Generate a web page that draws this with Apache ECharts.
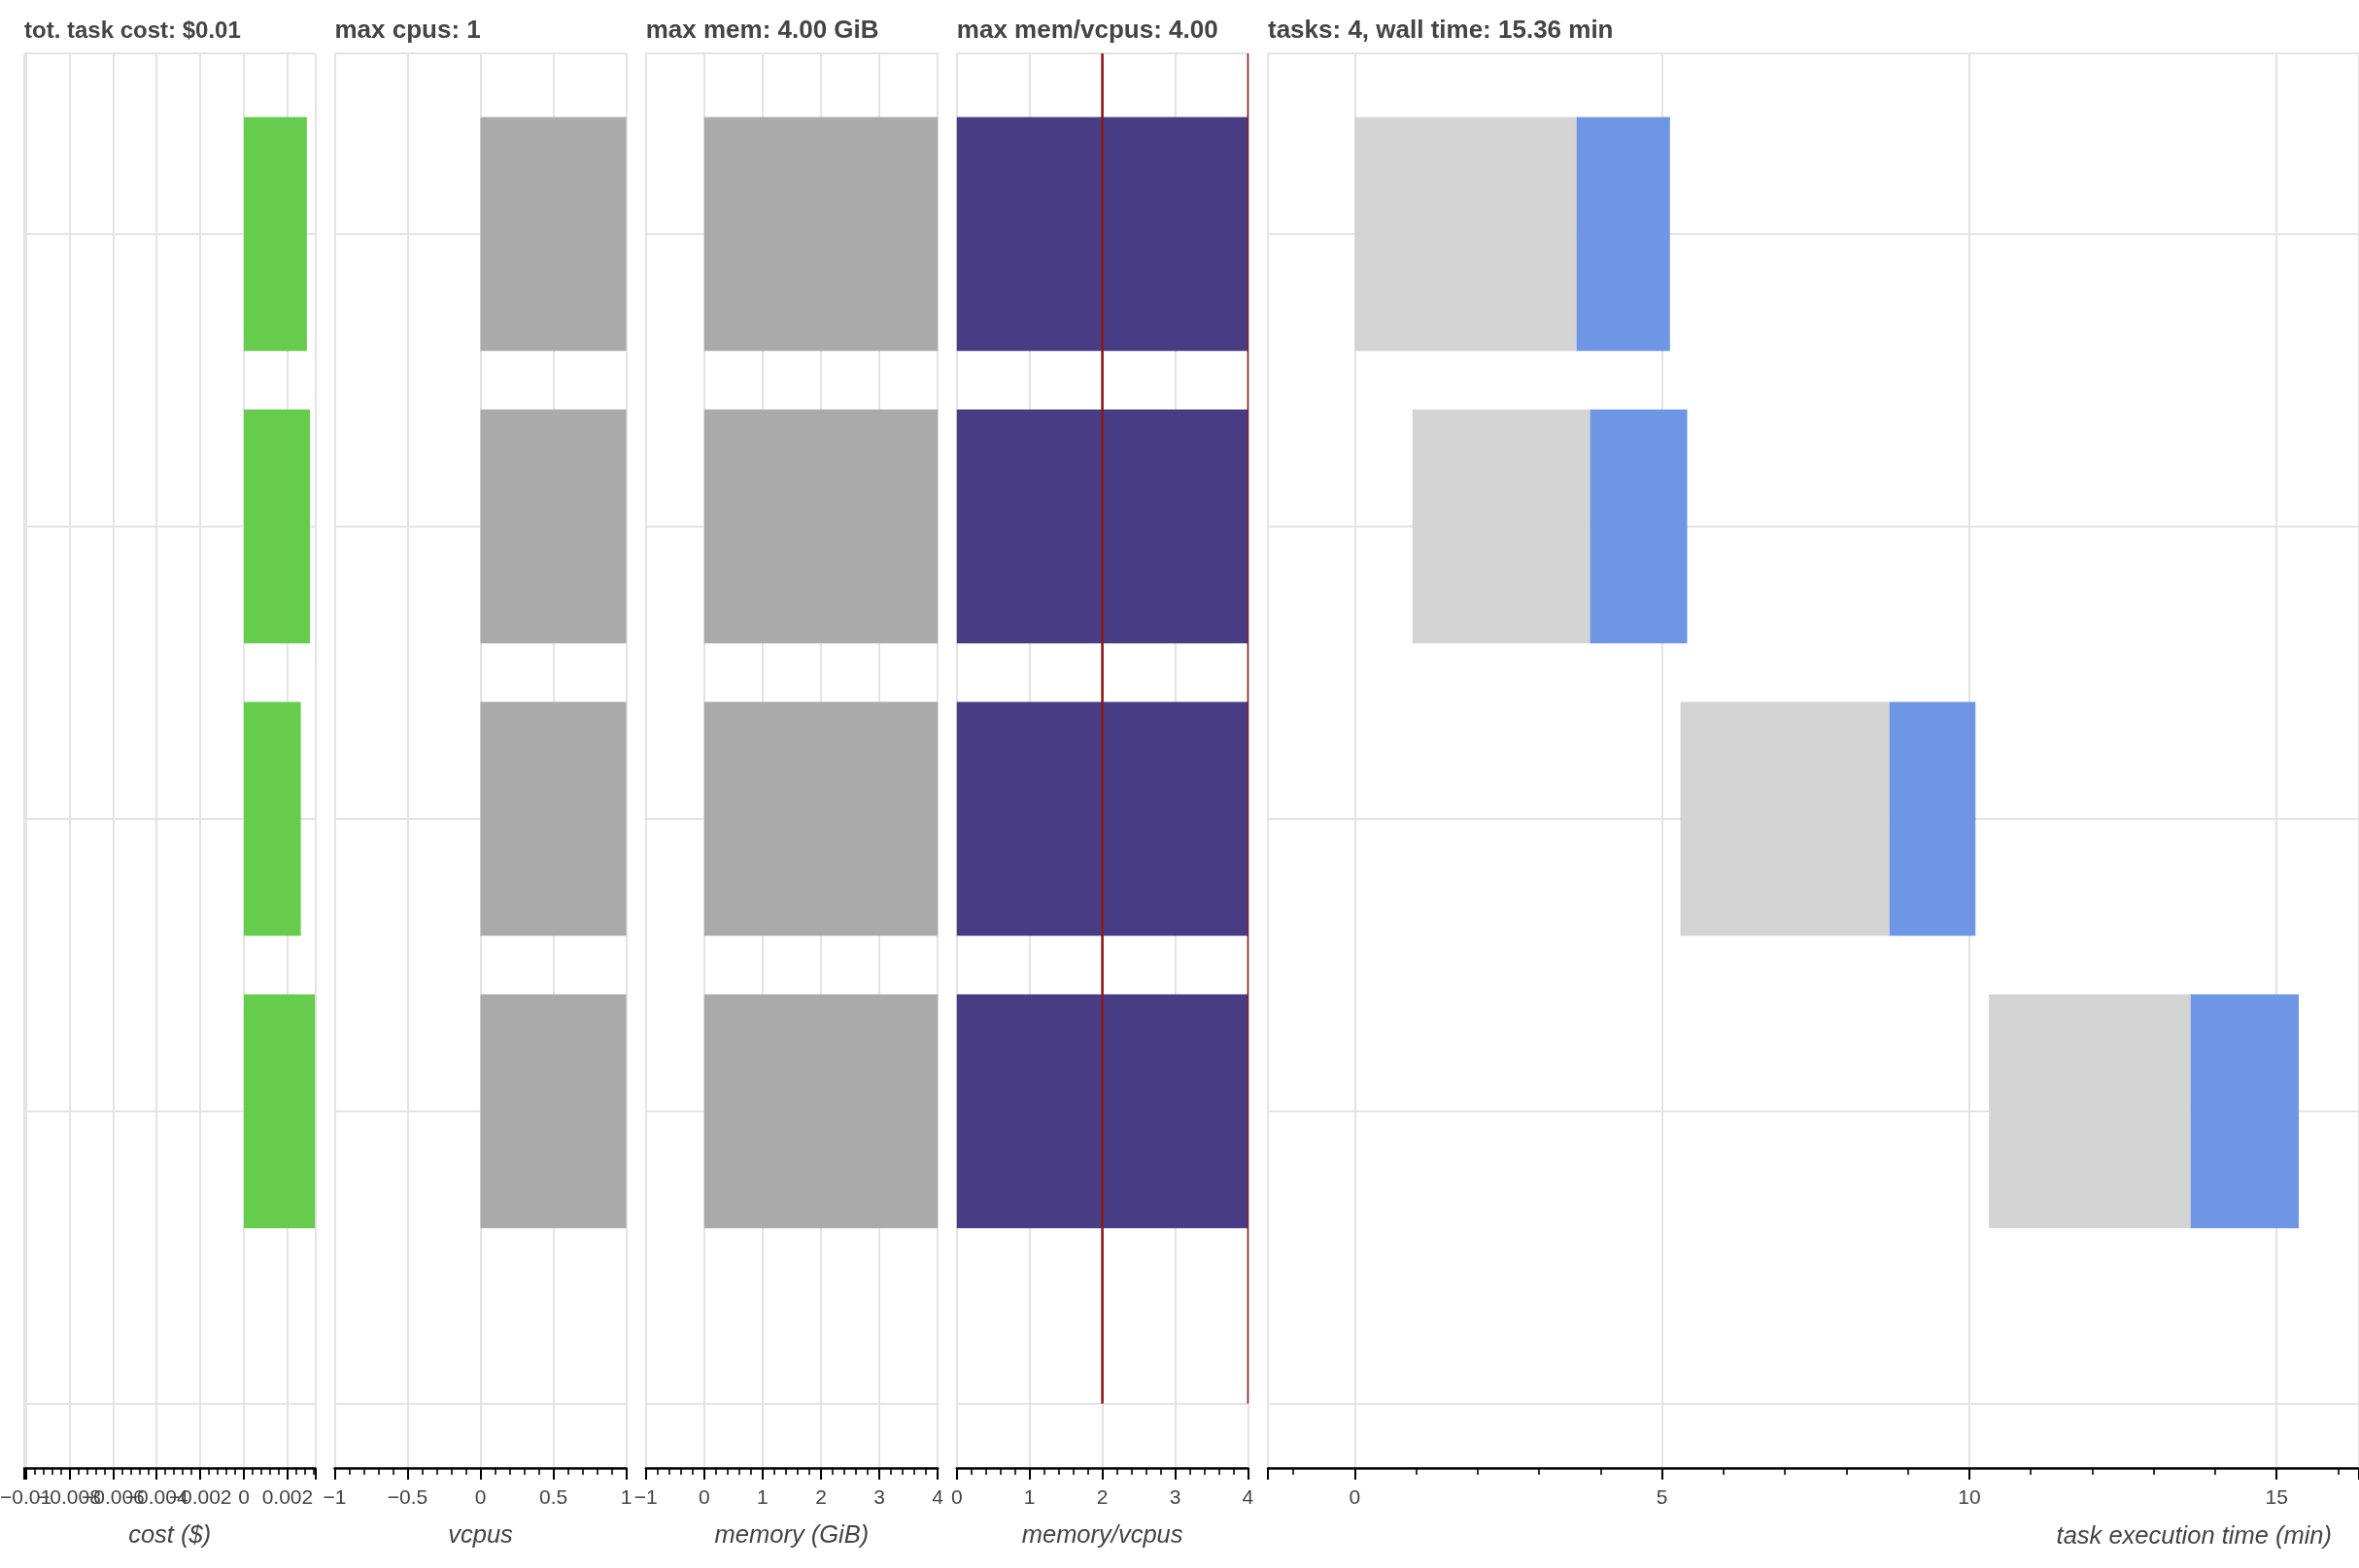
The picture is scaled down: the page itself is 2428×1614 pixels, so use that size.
<!DOCTYPE html>
<html><head><meta charset="utf-8">
<script src="https://cdn.jsdelivr.net/npm/echarts@6/dist/echarts.min.js"></script>
<style>html,body{margin:0;padding:0;background:#fff}#chart{width:2428px;height:1614px}</style>
</head><body><div id="chart"></div>
<script>
// ---- data ----
const taskIds = [1, 2, 3, 4];
const costs = [0.00289, 0.00303, 0.00261, 0.00326];
const vcpus = [1, 1, 1, 1];
const memGiB = [4, 4, 4, 4];
const memPerVcpu = [4, 4, 4, 4];
const queueStart = [0, 0.94, 5.30, 10.32];
const runStart = [3.61, 3.83, 8.70, 13.60];
const endTime = [5.13, 5.41, 10.10, 15.36];
const memRefLines = [2, 4];
const refLineTop = 5;
const panelTitles = ['tot. task cost: $0.01', 'max cpus: 1', 'max mem: 4.00 GiB', 'max mem/vcpus: 4.00', 'tasks: 4, wall time: 15.36 min'];
const axisNames = ['cost ($)', 'vcpus', 'memory (GiB)', 'memory/vcpus', 'task execution time (min)'];

// ---- layout / style ----
const FONT = '"Liberation Sans", Arial, Helvetica, sans-serif';
const TXT = '#444';
const GRID_TOP = 55, GRID_BOTTOM = 103;
const Y_MIN = 0.382, Y_MAX = 5.22;
const BAR_H = 0.8;
const panels = [
  {left: 25, width: 299.3, min: -0.01007, max: 0.003265, splitNumber: 6, titleSize: 24},
  {left: 344.5, width: 300.1, min: -1, max: 1, interval: 0.5, titleSize: 26},
  {left: 664.7, width: 300.5, min: -1, max: 4, interval: 1, titleSize: 26},
  {left: 984.8, width: 299.6, min: 0, max: 4, interval: 1, titleSize: 26},
  {left: 1305, right: 0, min: -1.411, max: 16.34, splitNumber: 4, titleSize: 26}
];

const chart = echarts.init(document.getElementById('chart'), null, {renderer: 'canvas'});

const grids = panels.map(p => {
  const g = {top: GRID_TOP, bottom: GRID_BOTTOM, left: p.left, containLabel: false, outerBoundsMode: 'none'};
  if (p.width !== undefined) g.width = p.width; else g.right = p.right;
  return g;
});

const fmt = v => {
  const s = String(+v.toFixed(6));
  return s.replace('-', '\u2212');
};

const xAxes = panels.map((p, i) => {
  const ax = {
    type: 'value', gridIndex: i, min: p.min, max: p.max,
    name: axisNames[i],
    nameLocation: i === 4 ? 'end' : 'middle',
    nameGap: i === 4 ? -28 : 57,
    nameTextStyle: i === 4
      ? {fontFamily: FONT, fontSize: 25.5, fontStyle: 'italic', color: TXT, align: 'right', verticalAlign: 'top', padding: [58, 0, 0, 0]}
      : {fontFamily: FONT, fontSize: 25.5, fontStyle: 'italic', color: TXT},
    axisLine: {show: true, onZero: false, lineStyle: {color: '#000', width: 2.5}},
    axisTick: {show: true, length: 12, lineStyle: {color: '#000', width: 2}},
    minorTick: {show: true, splitNumber: 5, length: 7, lineStyle: {color: '#000', width: 1.6}},
    splitLine: {show: true, lineStyle: {color: '#e4e4e4', width: 2}},
    axisLabel: {fontFamily: FONT, fontSize: 21, color: TXT, margin: 21, formatter: fmt,
      showMaxLabel: (i === 0 || i === 4) ? false : true,
      showMinLabel: (i === 0 || i === 4) ? false : true, hideOverlap: false}
  };
  if (p.interval !== undefined) ax.interval = p.interval; else ax.splitNumber = p.splitNumber;
  return ax;
});

const yAxes = panels.map((p, i) => ({
  type: 'value', gridIndex: i, min: Y_MIN, max: Y_MAX, inverse: true, splitNumber: 5,
  axisLine: {show: false}, axisTick: {show: false}, axisLabel: {show: false},
  splitLine: {show: true, lineStyle: {color: '#e4e4e4', width: 2}}
}));

function rectRender(color) {
  return function (params, api) {
    const y = api.value(2);
    const a = api.coord([api.value(0), y]);
    const b = api.coord([api.value(1), y]);
    const h = Math.abs(api.size([0, BAR_H])[1]);
    return {type: 'rect', shape: {x: a[0], y: a[1] - h / 2, width: b[0] - a[0], height: h},
      style: {fill: color}};
  };
}

function barSeries(idx, starts, ends, color) {
  return {
    type: 'custom', xAxisIndex: idx, yAxisIndex: idx, clip: true,
    renderItem: rectRender(color),
    encode: {x: [0, 1], y: 2},
    data: taskIds.map((t, i) => [starts[i], ends[i], t])
  };
}

const zeros = taskIds.map(() => 0);
const series = [
  barSeries(0, zeros, costs, '#66cc4d'),
  barSeries(1, zeros, vcpus, '#aaaaaa'),
  barSeries(2, zeros, memGiB, '#aaaaaa'),
  barSeries(3, zeros, memPerVcpu, '#483d85'),
  barSeries(4, queueStart, runStart, '#d4d4d4'),
  barSeries(4, runStart, endTime, '#6f95e5')
];
memRefLines.forEach((v, i) => {
  series.push({
    type: 'line', xAxisIndex: 3, yAxisIndex: 3, symbol: 'none', silent: true, z: 5,
    lineStyle: {color: '#8b1a1a', width: i === 0 ? 2.6 : 1.5},
    data: [[v, Y_MIN], [v, refLineTop]]
  });
});

const titles = panels.map((p, i) => ({
  text: panelTitles[i], left: p.left, top: 20 - (p.titleSize - 25) * 0.8, padding: 0,
  textStyle: {fontFamily: FONT, fontSize: p.titleSize, fontWeight: 'bold', color: TXT}
}));

chart.setOption({
  animation: false,
  backgroundColor: '#fff',
  title: titles,
  grid: grids,
  xAxis: xAxes,
  yAxis: yAxes,
  series: series
});
</script></body></html>
